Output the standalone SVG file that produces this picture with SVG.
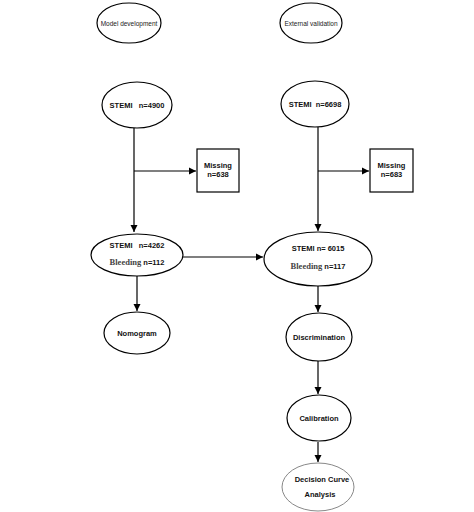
<svg xmlns="http://www.w3.org/2000/svg" width="474" height="512" viewBox="0 0 474 512">
<defs>
<marker id="ah" markerWidth="8" markerHeight="8" refX="7" refY="4" orient="auto" markerUnits="userSpaceOnUse">
<path d="M0,0.5 L7,4 L0,7.5 Z" fill="#000"/>
</marker>
</defs>
<style>
.n{fill:#fff;stroke:#000;stroke-width:1.2}
.t{font-family:"Liberation Sans",Arial,sans-serif;font-size:7.5px;font-weight:bold;fill:#111;text-anchor:middle}
.s{font-family:"Liberation Sans",Arial,sans-serif;font-size:6.5px;fill:#222;text-anchor:middle}
.b{font-family:"Liberation Serif","Times New Roman",serif;font-size:8.5px;font-weight:bold;fill:#444}
.c{fill:none;stroke:#000;stroke-width:1.2}
</style>
<rect width="474" height="512" fill="#fff"/>
<g id="connectors">
<path class="c" d="M134,128 V232" marker-end="url(#ah)"/>
<path class="c" d="M134,171 H196" marker-end="url(#ah)"/>
<path class="c" d="M318,127 V231" marker-end="url(#ah)"/>
<path class="c" d="M318,171 H369" marker-end="url(#ah)"/>
<path class="c" d="M183,257 H263" marker-end="url(#ah)"/>
<path class="c" d="M137,276 V311" marker-end="url(#ah)"/>
<path class="c" d="M318,286 V312" marker-end="url(#ah)"/>
<path class="c" d="M318,361 V394" marker-end="url(#ah)"/>
<path class="c" d="M318,442 V462" marker-end="url(#ah)"/>
</g>
<g id="model-development">
<ellipse class="n" cx="129" cy="23" rx="32" ry="20"/>
<text class="s" x="129" y="25.5">Model development</text>
</g>
<g id="external-validation">
<ellipse class="n" cx="311" cy="23" rx="31" ry="20"/>
<text class="s" x="311" y="25.5">External validation</text>
</g>
<g id="stemi-4900">
<ellipse class="n" cx="137" cy="105" rx="35" ry="23"/>
<text class="t" x="137" y="108" xml:space="preserve">STEMI   n=4900</text>
</g>
<g id="stemi-6698">
<ellipse class="n" cx="315" cy="104" rx="34" ry="23"/>
<text class="t" x="315" y="107" xml:space="preserve">STEMI  n=6698</text>
</g>
<g id="missing-638">
<rect class="n" x="197" y="149" width="42" height="43"/>
<text class="t" x="218" y="168">Missing</text>
<text class="t" x="218" y="176.5">n=638</text>
</g>
<g id="missing-683">
<rect class="n" x="370" y="149" width="43" height="43"/>
<text class="t" x="391.5" y="168">Missing</text>
<text class="t" x="391.5" y="176.5">n=683</text>
</g>
<g id="stemi-4262">
<ellipse class="n" cx="137" cy="255" rx="46" ry="21"/>
<text class="t" x="137" y="248" xml:space="preserve">STEMI   n=4262</text>
<text class="t" x="137" y="265"><tspan class="b">Bleeding</tspan> n=112</text>
</g>
<g id="stemi-6015">
<ellipse class="n" cx="318" cy="259" rx="54" ry="27"/>
<text class="t" x="318" y="251">STEMI  n= 6015</text>
<text class="t" x="318" y="269"><tspan class="b">Bleeding</tspan> n=117</text>
</g>
<g id="nomogram">
<ellipse class="n" cx="137" cy="333" rx="33" ry="21"/>
<text class="t" x="137" y="336">Nomogram</text>
</g>
<g id="discrimination">
<ellipse class="n" cx="319" cy="337" rx="33" ry="24"/>
<text class="t" x="319" y="340">Discrimination</text>
</g>
<g id="calibration">
<ellipse class="n" cx="319" cy="418" rx="32" ry="23"/>
<text class="t" x="319" y="421">Calibration</text>
</g>
<g id="decision-curve">
<ellipse cx="318" cy="487" rx="36" ry="24" fill="#fff" stroke="#888" stroke-width="1"/>
<text class="t" x="322" y="482">Decision Curve</text>
<text class="t" x="320" y="497">Analysis</text>
</g>
</svg>
